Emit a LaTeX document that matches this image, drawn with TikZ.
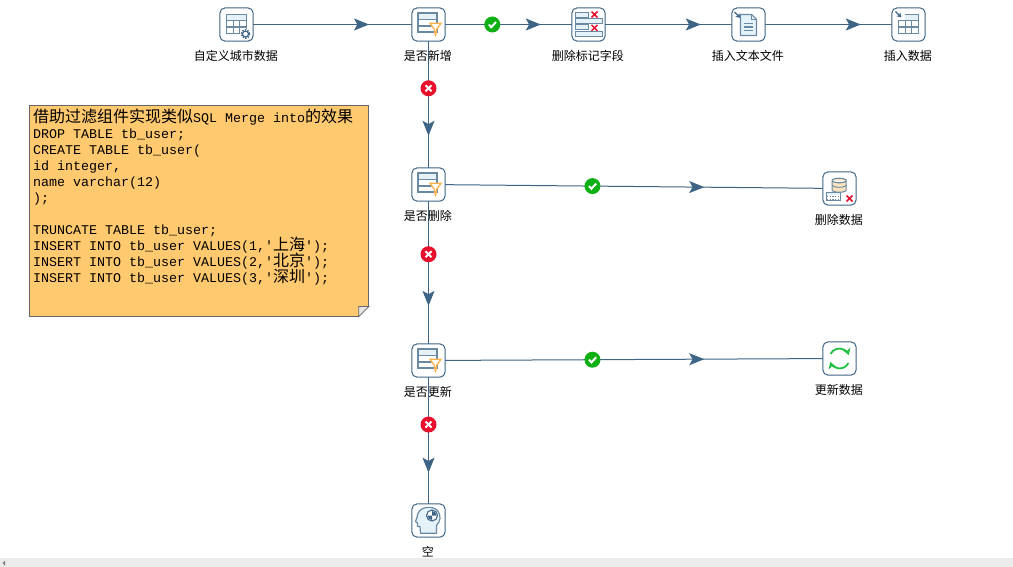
\documentclass[tikz,border=0pt]{standalone}
\usepackage{fontspec}
\setmonofont{Liberation Mono}
\newfontfamily\cjk{Noto Sans CJK SC}
\usetikzlibrary{positioning, calc, arrows.meta, decorations.markings}
\definecolor{lineBlue}{HTML}{3E6585}
\definecolor{tableBlue}{HTML}{6A8AA3}
\definecolor{paleBlue}{HTML}{E6F2FA}
\definecolor{noteFill}{HTML}{FFC96F}
\definecolor{okFill}{HTML}{0FB014}
\definecolor{noFill}{HTML}{E8112D}
\definecolor{funnelOrange}{HTML}{FDB44E}
\definecolor{dbFill}{HTML}{FBE3C0}
\definecolor{syncGreen}{HTML}{1FBF3F}
\newcommand{\Han}[1]{\smash{\cjk\fontsize{12}{12}\selectfont #1}}
\tikzset{
    Arrow/.style = {
        draw=lineBlue, line width=.75pt,
        decoration={
            markings,
            mark=at position #1 with {
                \arrow[lineBlue]{Stealth[length=11.25pt, width=9pt, inset=2.5pt]}
                }
            },
        postaction = {decorate}
    },
    Step/.style = {
        draw=lineBlue, fill=white, line width=.75pt, rounded corners=4pt,
        minimum size=25pt, inner sep=0pt, outer sep=0pt, on grid
    },
    Caption/.style = {font=\cjk\fontsize{9}{11}\selectfont, text=black, inner sep=0pt, on grid, below=23.6pt of #1, xshift=-.5pt},
    Yes/.style = {
        circle, fill=okFill, minimum size=12pt, inner sep=0pt,
        path picture={
            \draw [white, line width=1.5pt, shift={(path picture bounding box.center)}]
                (-3.5,0) -- (-1,2.7) -- (3.7,-2.5);
        }
    },
    No/.style = {
        circle, fill=noFill, minimum size=12pt, inner sep=0pt,
        path picture={
            \draw [white, line width=1.5pt, shift={(path picture bounding box.center)}]
                (-3,-3) -- (3,3) (-3,3) -- (3,-3);
        }
    },
    Note/.style = {
        draw=black!60, fill=noteFill, line width=.75pt, anchor=north west,
        minimum width=254.5pt, text width=248.5pt,
        text height=10pt, text depth=142.3pt,
        inner xsep=3pt, inner ysep=3pt, align=flush left,
        font=\ttfamily\fontsize{10}{12}\selectfont
    },
    redx/.pic = {
        \draw [noFill, line width=1.1pt] (-3,-3) -- (3,3) (-3,3) -- (3,-3);
    },
    inarrow/.pic = {
        \draw [lineBlue, line width=.9pt, -{Stealth[length=3.5pt, width=4pt]}] (-3,-3) -- (3,3);
    },
    tablegrid/.pic = {
        \fill [paleBlue] (-9.7,-9.7) rectangle (9.7,-4);
        \draw [tableBlue, line width=.8pt] (-9.7,-9.7) rectangle (9.7,9.3)
            (-9.7,-4) -- (9.7,-4) (-9.7,2.5) -- (9.7,2.5)
            (-3.2,-4) -- (-3.2,9.3) (3.2,-4) -- (3.2,9.3);
    },
    customicon/.pic = {
        \pic at (0,0) {tablegrid};
        \fill [white] (9,9.5) circle (5.5);
        \draw [lineBlue, line width=.9pt] (9,9.5) circle (3);
        \draw [lineBlue, line width=1pt, dash pattern=on 1pt off 1pt] (9,9.5) circle (4.2);
    },
    filtericon/.pic = {
        \fill [paleBlue] (-10.7,-11.3) rectangle (8.7,-5);
        \draw [tableBlue, line width=1.1pt] (-10.7,-11.3) rectangle (8.7,7.7)
            (-10.7,-5) -- (8.7,-5) (-10.7,1.5) -- (8.7,1.5);
        \filldraw [draw=funnelOrange, fill=white, line width=1pt, line join=round]
            (1.3,-1.3) -- (12.7,-1.3) -- (8.3,4.5) -- (7,11.5) -- (5.7,4.5) -- cycle;
    },
    fieldsicon/.pic = {
        \draw [tableBlue, line width=1pt, fill=paleBlue]
            (-13,-11.7) rectangle (.3,-7.3)
            (-13,-5.7) rectangle (13.7,-1.3)
            (-13,.3) rectangle (.3,5.3)
            (-13,7) rectangle (13.7,11.7);
        \pic at (6,-10) {redx};
        \pic at (6,3.3) {redx};
    },
    fileicon/.pic = {
        \pic at (-11,-9.5) {inarrow};
        \filldraw [draw=tableBlue, fill=paleBlue, line width=.8pt, line join=round]
            (-8,-10) -- (3,-10) -- (8,-5) -- (8,11) -- (-8,11) -- cycle;
        \draw [tableBlue, line width=.8pt] (3,-10) -- (3,-5) -- (8,-5)
            (-4.5,-1) -- (4.5,-1) (-4.5,2.5) -- (4.5,2.5) (-4.5,6) -- (4.5,6);
    },
    inserticon/.pic = {
        \pic at (0,0) {tablegrid};
        \fill [white] (-10.5,-10.5) rectangle (-3.2,-4.5);
        \pic at (-10,-10) {inarrow};
    },
    dbicon/.pic = {
        \filldraw [draw=tableBlue, fill=dbFill, line width=.8pt]
            (-7.3,-8) -- (-7.3,1.5) arc [start angle=180, end angle=0, x radius=7, y radius=2.3]
            -- (6.7,-8) arc [start angle=0, end angle=360, x radius=7, y radius=2.3];
        \draw [tableBlue, line width=.7pt]
            (-7.3,-3.5) arc [start angle=180, end angle=0, x radius=7, y radius=2.3];
        \filldraw [draw=tableBlue, fill=white, line width=.7pt] (-13.3,3.7) rectangle (1,12);
        \fill [paleBlue] (-13,4) rectangle (.7,6.5);
        \draw [tableBlue, line width=.7pt, dash pattern=on 1pt off 1pt]
            (-12.5,8) -- (.5,8) (-12.5,10.5) -- (.5,10.5);
        \pic at (10,10) {redx};
    },
    syncicon/.pic = {
        \draw [syncGreen, line width=1.3pt, -{Stealth[length=5pt, width=6pt]}]
            (-9,-4.5) arc [start angle=207, end angle=340, radius=10];
        \draw [syncGreen, line width=1.3pt, -{Stealth[length=5pt, width=6pt]}]
            (9,4.5) arc [start angle=27, end angle=160, radius=10];
    },
    headicon/.pic = {
        \filldraw [draw=tableBlue, fill=paleBlue, line width=.9pt, line join=round]
            (-8,12.7) -- (-8.5,6) -- (-11,6) -- (-11,2.5) -- (-13,1)
            .. controls (-11,-2) and (-12,-4) .. (-10,-8)
            .. controls (-7,-14) and (4,-15) .. (9,-10)
            .. controls (13,-5) and (12,1) .. (8,5)
            -- (8,12.7) -- cycle;
        \filldraw [draw=lineBlue, fill=white, line width=.8pt] (3.5,-5) circle (5.5);
        \fill [lineBlue] (3.5,-5) -- (3.5,-9.5) arc [start angle=270, end angle=360, radius=4.5] -- cycle;
        \fill [lineBlue] (3.5,-5) -- (-1,-5) arc [start angle=180, end angle=90, radius=4.5] -- cycle;
    }
}

\begin{document}
\begin{tikzpicture}[x=.75pt, y=-.75pt]
    \useasboundingbox (0,0) rectangle (1013,567);
    \fill [white] (0,0) rectangle (1013,567);
    \fill [black!8] (0,558) rectangle (1013,567);
    \fill [black!50] (5,560.5) -- (2.5,563) -- (5,565.5) -- cycle;
    % steps
    \node [Step] (City) at (236.5,24.5) {};
    \node [Step, right=144pt of City] (IsNew) {};
    \node [Step, right=120pt of IsNew] (DropField) {};
    \node [Step, right=120pt of DropField] (TextFile) {};
    \node [Step, right=120pt of TextFile] (Insert) {};
    \node [Step, below=120pt of IsNew] (IsDel) {};
    \node [Step, below=132pt of IsDel] (IsUpd) {};
    \node [Step, below=120pt of IsUpd] (Blank) {};
    \node [Step, right=308.25pt of IsDel, yshift=-3pt] (Delete) {};
    \node [Step, right=308.25pt of IsUpd, yshift=1.5pt] (Update) {};
    % hops
    \draw [Arrow=.73] (City) to (IsNew);
    \draw [Arrow=.755] (IsNew) to node [Yes, pos=.372] (okNew) {} (DropField);
    \draw [Arrow=.755] (DropField) to (TextFile);
    \draw [Arrow=.755] (TextFile) to (Insert);
    \draw [Arrow=.747] (IsNew) to node [No, pos=.372] (noNew) {} (IsDel);
    \draw [Arrow=.734] (IsDel) to node [No, pos=.372] (noDel) {} (IsUpd);
    \draw [Arrow=.754] (IsUpd) to node [No, pos=.374] (noUpd) {} (Blank);
    \draw [Arrow=.686] (IsDel) to node [Yes, pos=.39] (okDel) {} (Delete);
    \draw [Arrow=.686] (IsUpd) to node [Yes, pos=.39] (okUpd) {} (Update);
    % icons
    \pic at (City) {customicon};
    \pic at (IsNew) {filtericon};
    \pic at (DropField) {fieldsicon};
    \pic at (TextFile) {fileicon};
    \pic at (Insert) {inserticon};
    \pic at (IsDel) {filtericon};
    \pic at (IsUpd) {filtericon};
    \pic at (Blank) {headicon};
    \pic at (Delete) {dbicon};
    \pic at (Update) {syncicon};
    % captions
    \node [Caption=City] (CityText) {自定义城市数据};
    \node [Caption=IsNew] (IsNewText) {是否新增};
    \node [Caption=DropField] (DropFieldText) {删除标记字段};
    \node [Caption=TextFile] (TextFileText) {插入文本文件};
    \node [Caption=Insert] (InsertText) {插入数据};
    \node [Caption=IsDel] (IsDelText) {是否删除};
    \node [Caption=IsUpd] (IsUpdText) {是否更新};
    \node [Caption=Blank] (BlankText) {空};
    \node [Caption=Delete] (DeleteText) {删除数据};
    \node [Caption=Update] (UpdateText) {更新数据};
    % note
    \node [Note] (Sql) at (28.5,104.5) {\Han{借助过滤组件实现类似}SQL Merge into\Han{的效果}\\
        DROP TABLE tb\_user;\\
        CREATE TABLE tb\_user(\\
        id integer,\\
        name varchar(12)\\
        );\\
        \mbox{}\\
        TRUNCATE TABLE tb\_user;\\
        INSERT INTO tb\_user VALUES(1,\textquotesingle\Han{上海}\textquotesingle);\\
        INSERT INTO tb\_user VALUES(2,\textquotesingle\Han{北京}\textquotesingle);\\
        INSERT INTO tb\_user VALUES(3,\textquotesingle\Han{深圳}\textquotesingle);};
    \fill [white] ($(Sql.south east)+(.6,.6)$) -- ($(Sql.south east)+(.6,-10.5)$) -- ($(Sql.south east)+(-10.5,.6)$) -- cycle;
    \filldraw [draw=black!60, fill=black!10, line width=.6pt] ($(Sql.south east)+(0,-10)$) -- ($(Sql.south east)+(-10,-10)$) -- ($(Sql.south east)+(-10,0)$) -- cycle;
\end{tikzpicture}
\end{document}
